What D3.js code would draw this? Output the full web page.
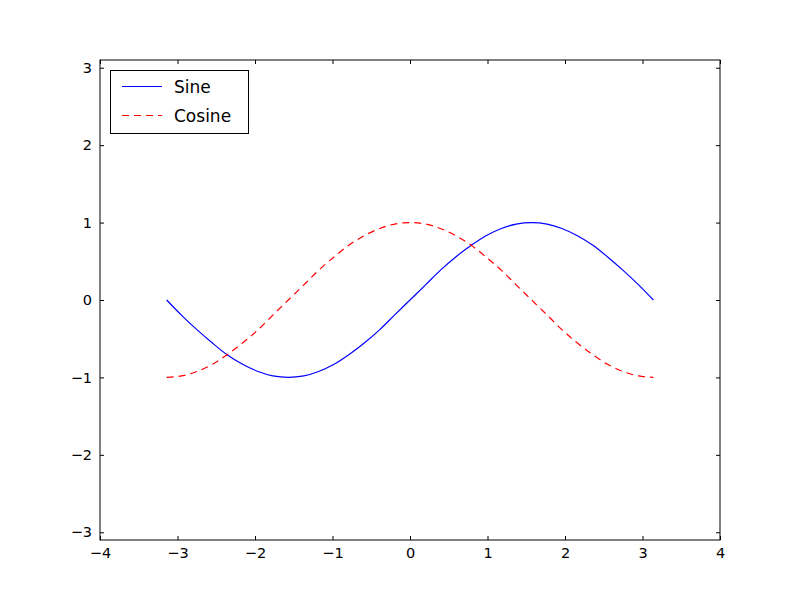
<!DOCTYPE html>
<html><head><meta charset="utf-8">
<script src="https://cdn.jsdelivr.net/npm/d3@7"></script>
<style>body{margin:0;background:#fff}</style>
</head><body>
<div class="chart"></div>
<script>
var xValues = [-3.14,-2.95,-2.75,-2.55,-2.36,-2.16,-1.96,-1.77,-1.57,-1.37,-1.18,-0.98,-0.79,-0.59,-0.39,-0.20,0,0.20,0.39,0.59,0.79,0.98,1.18,1.37,1.57,1.77,1.96,2.16,2.36,2.55,2.75,2.95,3.14];
var sineValues = [0,-0.195,-0.383,-0.556,-0.707,-0.831,-0.924,-0.981,-1,-0.981,-0.924,-0.831,-0.707,-0.556,-0.383,-0.195,0,0.195,0.383,0.556,0.707,0.831,0.924,0.981,1,0.981,0.924,0.831,0.707,0.556,0.383,0.195,0];
var cosineValues = [-1,-0.981,-0.924,-0.831,-0.707,-0.556,-0.383,-0.195,0,0.195,0.383,0.556,0.707,0.831,0.924,0.981,1,0.981,0.924,0.831,0.707,0.556,0.383,0.195,0,-0.195,-0.383,-0.556,-0.707,-0.831,-0.924,-0.981,-1];
var xTicks = [-4,-3,-2,-1,0,1,2,3,4];
var yTicks = [-3,-2,-1,0,1,2,3];
var seriesNames = ['Sine','Cosine'];

var width = 800, height = 600;
var plotLeft = 100, plotRight = 720, plotTop = 60, plotBottom = 540;
var svg = d3.select('.chart').append('svg').attr('width', width).attr('height', height)
	.style('font-family', 'DejaVu Sans');
var x = d3.scaleLinear().domain([-4, 4]).range([plotLeft, plotRight]);
var y = d3.scaleLinear().domain([-3.1, 3.1]).range([plotBottom, plotTop]);

var fmt = function(d){ return d < 0 ? '\u2212' + Math.abs(d) : '' + d; };

// ticks (inward, all four sides)
svg.append('g').attr('transform', 'translate(0,' + plotBottom + ')')
	.call(d3.axisBottom(x).tickValues(xTicks).tickSizeInner(-4).tickSizeOuter(0).tickPadding(8).tickFormat(fmt));
svg.append('g').attr('transform', 'translate(0,' + plotTop + ')')
	.call(d3.axisTop(x).tickValues(xTicks).tickSizeInner(-4).tickSizeOuter(0).tickFormat(''));
svg.append('g').attr('transform', 'translate(' + plotLeft + ',0)')
	.call(d3.axisLeft(y).tickValues(yTicks).tickSizeInner(-4).tickSizeOuter(0).tickPadding(8).tickFormat(fmt));
svg.append('g').attr('transform', 'translate(' + plotRight + ',0)')
	.call(d3.axisRight(y).tickValues(yTicks).tickSizeInner(-4).tickSizeOuter(0).tickFormat(''));
svg.selectAll('.domain').remove();
svg.selectAll('.tick text').attr('font-size', 14.5).attr('fill', '#000').attr('font-family', 'DejaVu Sans');
svg.selectAll('.tick line').attr('stroke', '#000');

var line = d3.line().x(function(d){ return x(d[0]); }).y(function(d){ return y(d[1]); }).curve(d3.curveMonotoneX);
svg.append('path').datum(d3.zip(xValues, sineValues)).attr('d', line)
	.attr('fill', 'none').attr('stroke', '#0000ff').attr('stroke-width', 1.2);
svg.append('path').datum(d3.zip(xValues, cosineValues)).attr('d', line)
	.attr('fill', 'none').attr('stroke', '#ff0000').attr('stroke-width', 1.2).attr('stroke-dasharray', '7,5');

svg.append('rect').attr('x', plotLeft).attr('y', plotTop).attr('width', plotRight - plotLeft).attr('height', plotBottom - plotTop)
	.attr('fill', 'none').attr('stroke', '#000').attr('stroke-width', 1);

// legend
var lg = svg.append('g');
lg.append('rect').attr('x', 110.5).attr('y', 70.5).attr('width', 138).attr('height', 63)
	.attr('fill', '#fff').attr('stroke', '#000');
var colors = ['#0000ff', '#ff0000'], dashes = [null, '7,5'];
for(var i = 0; i < seriesNames.length; i++){
	var ly = 86.5 + i * 29;
	lg.append('line').attr('x1', 122).attr('x2', 162).attr('y1', ly).attr('y2', ly)
		.attr('stroke', colors[i]).attr('stroke-width', 1.2).attr('stroke-dasharray', dashes[i]);
	lg.append('text').attr('x', 174).attr('y', ly + 6).attr('font-size', 17).text(seriesNames[i]);
}
</script>
</body></html>
